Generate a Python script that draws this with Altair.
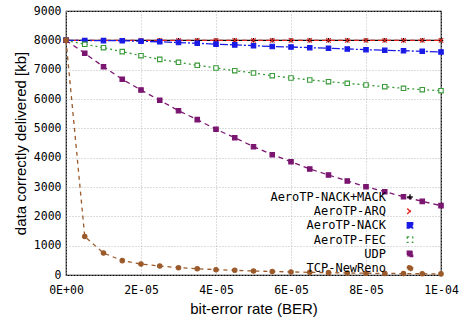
import altair as alt
import pandas as pd

ber = [0, 5e-6, 1e-5, 1.5e-5, 2e-5, 2.5e-5, 3e-5, 3.5e-5, 4e-5, 4.5e-5, 5e-5,
       5.5e-5, 6e-5, 6.5e-5, 7e-5, 7.5e-5, 8e-5, 8.5e-5, 9e-5, 9.5e-5, 1e-4]

series_names = ["AeroTP-NACK+MACK", "AeroTP-ARQ", "AeroTP-NACK", "AeroTP-FEC", "UDP", "TCP-NewReno"]

nack_mack = [8000] * 21
arq = [8000] * 21
nack = [8000, 7995, 7990, 7985, 7970, 7950, 7925, 7900, 7870, 7845, 7818,
        7790, 7773, 7750, 7728, 7705, 7682, 7660, 7645, 7625, 7605]
fec = [8000, 7864, 7750, 7614, 7477, 7352, 7250, 7148, 7057, 6966, 6886,
       6795, 6716, 6648, 6591, 6534, 6477, 6420, 6364, 6318, 6284]
udp = [8000, 7557, 7102, 6671, 6307, 5955, 5602, 5296, 4966, 4682, 4375,
       4102, 3863, 3614, 3409, 3205, 3011, 2841, 2670, 2510, 2364]
tcp = [8000, 1310, 750, 490, 375, 305, 250, 215, 180, 160, 135,
       120, 105, 90, 80, 70, 62, 55, 48, 42, 38]

x_tick_values = [0, 2e-5, 4e-5, 6e-5, 8e-5, 1e-4]
x_tick_labels = ["0E+00", "2E-05", "4E-05", "6E-05", "8E-05", "1E-04"]

colors = ["#000000", "#e3201b", "#1a1ae6", "#3a9a3a", "#7a1570", "#9b5a2a"]
dashes = [[1, 0], [5, 3], [8, 2, 2, 2], [2, 3], [5, 4], [4, 4]]
shapes = ["M-1,0H1M0,-1V1", "M-1,-1L1,1M-1,1L1,-1", "square", "square", "square", "circle"]
fills = ["#000000", "#e3201b", "#1a1ae6", "#ffffff", "#7a1570", "#9b5a2a"]

rows = []
for name, vals in zip(series_names, [nack_mack, arq, nack, fec, udp, tcp]):
    for xv, yv in zip(ber, vals):
        rows.append({"ber": xv, "kb": yv, "series": name})
df = pd.DataFrame(rows)

label_expr = "[" + ",".join("'%s'" % s for s in x_tick_labels) + "][round(datum.value / 2e-5)]"

x = alt.X("ber:Q", title="bit-error rate (BER)",
          scale=alt.Scale(domain=[0, 1e-4], nice=False),
          axis=alt.Axis(values=x_tick_values, labelExpr=label_expr, tickSize=0,
                        labelFlush=False, labelPadding=9, titlePadding=6))
y = alt.Y("kb:Q", title="data correctly delivered [kb]",
          scale=alt.Scale(domain=[0, 9000], nice=False),
          axis=alt.Axis(values=list(range(0, 9001, 1000)), format="d", tickSize=0,
                        labelFlush=False, labelPadding=5, titlePadding=5))

legend = alt.Legend(title=None, orient="none", legendX=338, legendY=180,
                    labelFont="DejaVu Sans Mono", labelFontSize=12, labelColor="#000",
                    labelAlign="right", labelOffset={"expr": "-30"},
                    symbolSize=30, symbolStrokeWidth=1.3, rowPadding=2.2,
                    labelLimit=200)

stroke = alt.Stroke("series:N", scale=alt.Scale(domain=series_names, range=colors), legend=legend)
dash = alt.StrokeDash("series:N", scale=alt.Scale(domain=series_names, range=dashes), legend=legend)
shape = alt.Shape("series:N", scale=alt.Scale(domain=series_names, range=shapes), legend=legend)
fill = alt.Fill("series:N", scale=alt.Scale(domain=series_names, range=fills), legend=legend)

lines = alt.Chart(df).mark_line(strokeWidth=1.3).encode(x=x, y=y, stroke=stroke, strokeDash=dash)
points = alt.Chart(df).mark_point(size=20, strokeWidth=1.1, opacity=1).encode(
    x=x, y=y, stroke=stroke, shape=shape, fill=fill)

chart = alt.layer(lines, points).properties(
    width=375, height=264,
    autosize=alt.AutoSizeParams(type="none"),
    padding={"left": 66, "top": 11, "right": 33, "bottom": 56},
).configure_view(stroke="#000", strokeWidth=1.2).configure_axis(
    labelFont="DejaVu Sans Mono", labelFontSize=11.5, labelColor="#000",
    titleFont="Liberation Sans", titleFontSize=15, titleFontWeight="normal", titleColor="#000",
    gridColor="#bbbbbb", gridDash=[1, 2], gridWidth=1, domain=False,
)

chart.save("out.html", embed_options={"renderer": "svg", "actions": False})
